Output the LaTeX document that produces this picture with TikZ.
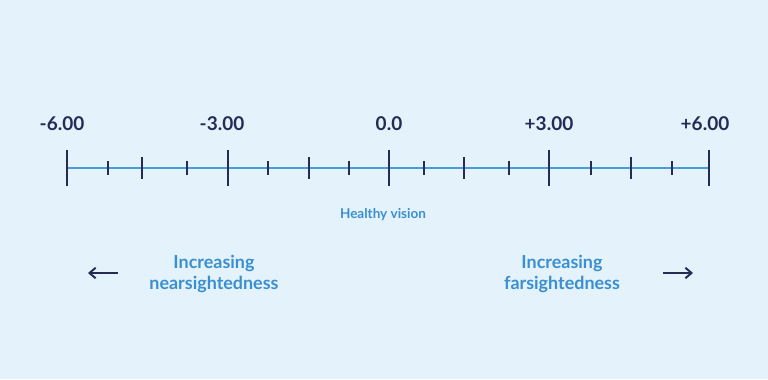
\documentclass[tikz,border=0pt]{standalone}
\usepackage{fontspec}
\setmainfont{Lato}
\usetikzlibrary{arrows.meta, positioning}
\definecolor{bgBlue}{HTML}{E3F2FB}
\definecolor{navyInk}{HTML}{262B55}
\definecolor{scaleBlue}{HTML}{4A9ED8}
\definecolor{labelBlue}{HTML}{3A8FD0}

\begin{document}
\begin{tikzpicture}[x=0.02cm, y=-0.02cm,
    every node/.style={inner sep=0pt, align=center},
    valuelabel/.style={text=navyInk, font=\bfseries\fontsize{10.8}{13}\selectfont},
    captionlabel/.style={text=labelBlue, font=\bfseries\fontsize{10.2}{11.6}\selectfont},
    smallcaption/.style={text=labelBlue, font=\bfseries\fontsize{7.7}{9}\selectfont},
    majortick/.style={draw=navyInk, line width=1.3pt},
    midtick/.style={draw=navyInk, line width=1.2pt},
    minortick/.style={draw=navyInk, line width=1.1pt},
    scaleline/.style={draw=scaleBlue, line width=1.1pt},
    sidearrow/.style={draw=navyInk, line width=1.1pt, -{Straight Barb[length=3.5pt, width=6pt]}}
  ]

    % Background and frame
    \fill[bgBlue] (0,0) rectangle (768,379);
    \useasboundingbox (0,0) rectangle (768,379);

    % Scale line
    \coordinate (scaleL) at (67,168);
    \coordinate (scaleR) at (709,168);
    \draw[scaleline] (scaleL) -- (scaleR);

    % Ticks
    \foreach \x in {67,228,389,549,709}
      \draw[majortick] (\x,150) -- (\x,186);
    \foreach \x in {142,309,464,631}
      \draw[midtick] (\x,157) -- (\x,179);
    \foreach \x in {108,187,268,349,424,509,591,672}
      \draw[minortick] (\x,161) -- (\x,175);

    % Values above the scale
    \node[valuelabel] (valM6) at (62,124) {-6.00};
    \node[valuelabel] (valM3) at (222,124) {-3.00};
    \node[valuelabel] (valZero) at (389,124) {0.0};
    \node[valuelabel] (valP3) at (549,124) {+3.00};
    \node[valuelabel] (valP6) at (705,124) {+6.00};

    % Captions
    \node[smallcaption] (healthy) at (383,215) {Healthy vision};
    \node[captionlabel] (nearText) at (214,274) {Increasing\\nearsightedness};
    \node[captionlabel] (farText) at (562,274) {Increasing\\farsightedness};

    % Direction arrows
    \coordinate (nearStart) at (118,273);
    \coordinate (nearEnd) at (88,273);
    \coordinate (farStart) at (663,273);
    \coordinate (farEnd) at (693,273);
    \draw[sidearrow] (nearStart) -- (nearEnd);
    \draw[sidearrow] (farStart) -- (farEnd);

  \end{tikzpicture}
\end{document}
